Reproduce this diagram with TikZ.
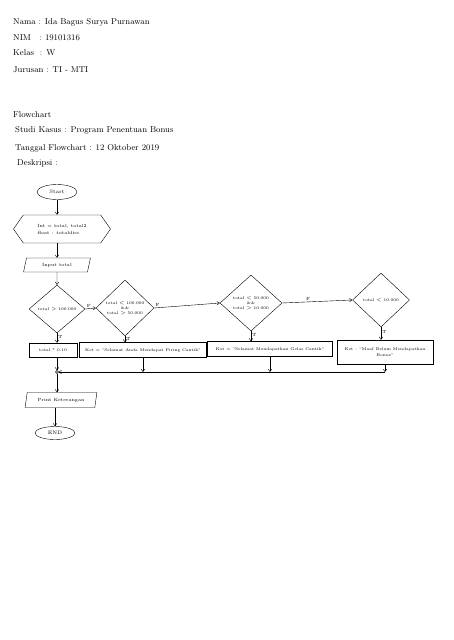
\documentclass[tikz,border=0pt]{standalone}
\usetikzlibrary{shapes.geometric,shapes.symbols,arrows.meta}
\begin{document}
\begin{tikzpicture}[x=1pt,y=-1pt,
  >={Straight Barb[length=2.5pt,width=3.5pt]},
  line width=0.4pt,
  hdr/.style={anchor=west, font=\fontsize{8.5}{9}\selectfont, inner sep=0pt},
  tiny/.style={font=\fontsize{4}{4.8}\selectfont},
  lbl/.style={font=\fontsize{4.5}{5}\selectfont, inner sep=1pt},
  term/.style={draw, ellipse, inner sep=0pt, font=\fontsize{5}{6}\selectfont},
  hexa/.style={draw, signal, signal to=east and west, signal pointer angle=110, inner sep=1pt, align=left, font=\fontsize{4.5}{7}\selectfont},
  io/.style={draw, trapezium, trapezium left angle=70, trapezium right angle=110, trapezium stretches=true, inner sep=0pt, font=\fontsize{4.5}{5}\selectfont},
  dec/.style={draw, diamond, inner sep=0pt, align=center, tiny},
  proc/.style={draw, rectangle, inner sep=1pt, align=center, font=\fontsize{4}{5.5}\selectfont},
  mrg/.style={draw, circle, inner sep=0pt, minimum size=3pt}
]
\useasboundingbox (0,0) rectangle (453,640);

% header
\node[hdr] (h1) at (13,22) {Nama : Ida Bagus Surya Purnawan};
\node[hdr] (h2) at (13,38) {NIM \ \ : 19101316};
\node[hdr] (h3) at (13,53) {Kelas \ : W};
\node[hdr] (h4) at (13,70) {Jurusan : TI - MTI};
\node[hdr] (h5) at (13,115) {Flowchart};
\node[hdr] (h6) at (15,130) {Studi Kasus : Program Penentuan Bonus};
\node[hdr] (h7) at (15,148) {Tanggal Flowchart : 12 Oktober 2019};
\node[hdr] (h8) at (17,163) {Deskripsi :};

% flowchart
\node[term, minimum width=40pt, minimum height=15pt] (start) at (57,192) {Start};
\node[hexa, minimum width=97pt, minimum height=28pt] (decl) at (62,229) {Int = total, total2\\float : totaldisc};
\node[io, minimum width=67pt, minimum height=14pt] (inp) at (57,265) {Input total};

\node[dec, minimum width=56pt, minimum height=48pt] (d1) at (57,309) {total $>$ 100.000};
\node[dec, minimum width=58pt, minimum height=56pt] (d2) at (125,308) {total $<$ 100.000\\\&\&\\total $>$ 50.000};
\node[dec, minimum width=62pt, minimum height=56pt] (d3) at (251,303) {total $<$ 50.000\\\&\&\\total $>$ 10.000};
\node[dec, minimum width=57pt, minimum height=54pt] (d4) at (381,300) {total $<$ 10.000};

\node[proc, minimum width=48pt, minimum height=14pt] (b1) at (53,350) {total * 0.10};
\node[proc, minimum width=127pt, minimum height=15pt] (b2) at (143,350) {Ket = ``Selamat Anda Mendapat Piring Cantik''};
\node[proc, minimum width=125pt, minimum height=15pt] (b3) at (270,349) {Ket = ``Selamat Mendapatkan Gelas Cantik''};
\node[proc, minimum width=96pt, minimum height=24pt] (b4) at (385,352) {Ket : ``Maaf Belum Mendapatkan\\Bonus''};

\node[mrg] (mg) at (57,372) {};
\node[io, minimum width=72pt, minimum height=15pt] (prn) at (61,400) {Print Keterangan};
\node[term, minimum width=40pt, minimum height=13pt] (fin) at (55,433) {END};

% connectors
\draw[->] (start) -- (start |- decl.north);
\draw[->] (decl.south -| start) -- (inp.north -| start);
\draw[->] (inp) -- (d1);
\draw[->] (d1.east) -- (d2.west) node[lbl, pos=0.35, above] {F};
\draw[->] (d2.east) -- (d3.west) node[lbl, pos=0.05, above] {F};
\draw[->] (d3.east) -- (d4.west) node[lbl, pos=0.37, above] {F};

\draw[->] (d1.south) -- (d1.south |- b1.north) node[lbl, pos=0.4, right] {T};
\draw[->] (d2.south) -- (d2.south |- b2.north) node[lbl, pos=0.4, right] {T};
\draw[->] (d3.south) -- (d3.south |- b3.north) node[lbl, pos=0.4, right] {T};
\draw[->] (d4.south) -- (d4.south |- b4.north) node[lbl, pos=0.4, right] {T};

\coordinate (ml) at (b4.south |- mg);
\draw[->] (ml) -- (mg.east);
\draw[->] (b1.south -| mg) -- (mg.north);
\draw[->] (b2.south) -- (b2.south |- mg);
\draw[->] (b3.south) -- (b3.south |- mg);
\draw[->] (b4.south) -- (ml);

\draw[->] (mg.south) -- (mg.south |- prn.north);
\draw[->] (prn.south -| fin.north) -- (fin.north);
\end{tikzpicture}
\end{document}
